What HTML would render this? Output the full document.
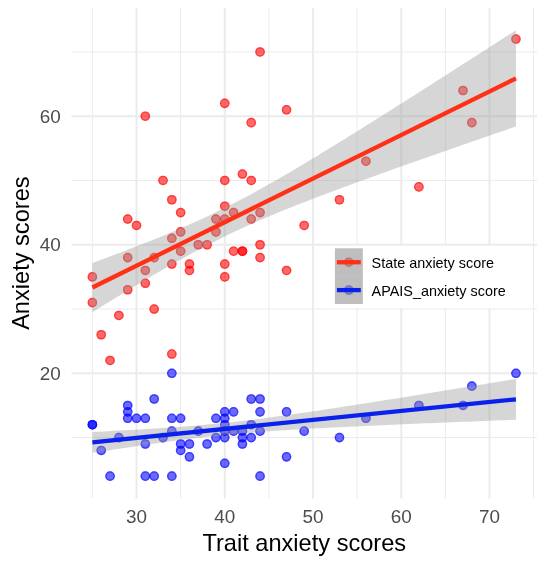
<!DOCTYPE html><html><head><meta charset="utf-8"><style>html,body{margin:0;padding:0;background:#fff;}svg{display:block;}text{font-family:"Liberation Sans",Arial,sans-serif;}</style></head><body>
<svg width="550" height="563" viewBox="0 0 550 563">
<rect width="550" height="563" fill="#fff"/>
<g stroke="#ebebeb" stroke-width="1.0"><line x1="92.40" y1="7.90" x2="92.40" y2="498.44"/><line x1="180.64" y1="7.90" x2="180.64" y2="498.44"/><line x1="268.88" y1="7.90" x2="268.88" y2="498.44"/><line x1="357.12" y1="7.90" x2="357.12" y2="498.44"/><line x1="445.36" y1="7.90" x2="445.36" y2="498.44"/><line x1="533.60" y1="7.90" x2="533.60" y2="498.44"/><line x1="71.50" y1="437.58" x2="537.10" y2="437.58"/><line x1="71.50" y1="309.02" x2="537.10" y2="309.02"/><line x1="71.50" y1="180.47" x2="537.10" y2="180.47"/><line x1="71.50" y1="51.93" x2="537.10" y2="51.93"/></g>
<g stroke="#ebebeb" stroke-width="2.0"><line x1="136.52" y1="7.90" x2="136.52" y2="498.44"/><line x1="224.76" y1="7.90" x2="224.76" y2="498.44"/><line x1="313.00" y1="7.90" x2="313.00" y2="498.44"/><line x1="401.24" y1="7.90" x2="401.24" y2="498.44"/><line x1="489.48" y1="7.90" x2="489.48" y2="498.44"/><line x1="71.50" y1="373.30" x2="537.10" y2="373.30"/><line x1="71.50" y1="244.75" x2="537.10" y2="244.75"/><line x1="71.50" y1="116.20" x2="537.10" y2="116.20"/></g>
<circle cx="92.40" cy="276.89" r="4.8" fill="#ff0000" fill-opacity="0.58"/><circle cx="92.40" cy="276.89" r="4.05" fill="none" stroke="#ff0000" stroke-opacity="0.45" stroke-width="1.5"/><circle cx="92.40" cy="302.60" r="4.8" fill="#ff0000" fill-opacity="0.58"/><circle cx="92.40" cy="302.60" r="4.05" fill="none" stroke="#ff0000" stroke-opacity="0.45" stroke-width="1.5"/><circle cx="101.22" cy="334.74" r="4.8" fill="#ff0000" fill-opacity="0.58"/><circle cx="101.22" cy="334.74" r="4.05" fill="none" stroke="#ff0000" stroke-opacity="0.45" stroke-width="1.5"/><circle cx="110.05" cy="360.44" r="4.8" fill="#ff0000" fill-opacity="0.58"/><circle cx="110.05" cy="360.44" r="4.05" fill="none" stroke="#ff0000" stroke-opacity="0.45" stroke-width="1.5"/><circle cx="118.87" cy="315.45" r="4.8" fill="#ff0000" fill-opacity="0.58"/><circle cx="118.87" cy="315.45" r="4.05" fill="none" stroke="#ff0000" stroke-opacity="0.45" stroke-width="1.5"/><circle cx="127.70" cy="289.74" r="4.8" fill="#ff0000" fill-opacity="0.58"/><circle cx="127.70" cy="289.74" r="4.05" fill="none" stroke="#ff0000" stroke-opacity="0.45" stroke-width="1.5"/><circle cx="127.70" cy="219.04" r="4.8" fill="#ff0000" fill-opacity="0.58"/><circle cx="127.70" cy="219.04" r="4.05" fill="none" stroke="#ff0000" stroke-opacity="0.45" stroke-width="1.5"/><circle cx="127.70" cy="257.61" r="4.8" fill="#ff0000" fill-opacity="0.58"/><circle cx="127.70" cy="257.61" r="4.05" fill="none" stroke="#ff0000" stroke-opacity="0.45" stroke-width="1.5"/><circle cx="136.52" cy="225.47" r="4.8" fill="#ff0000" fill-opacity="0.58"/><circle cx="136.52" cy="225.47" r="4.05" fill="none" stroke="#ff0000" stroke-opacity="0.45" stroke-width="1.5"/><circle cx="145.34" cy="270.46" r="4.8" fill="#ff0000" fill-opacity="0.58"/><circle cx="145.34" cy="270.46" r="4.05" fill="none" stroke="#ff0000" stroke-opacity="0.45" stroke-width="1.5"/><circle cx="145.34" cy="283.31" r="4.8" fill="#ff0000" fill-opacity="0.58"/><circle cx="145.34" cy="283.31" r="4.05" fill="none" stroke="#ff0000" stroke-opacity="0.45" stroke-width="1.5"/><circle cx="145.34" cy="116.20" r="4.8" fill="#ff0000" fill-opacity="0.58"/><circle cx="145.34" cy="116.20" r="4.05" fill="none" stroke="#ff0000" stroke-opacity="0.45" stroke-width="1.5"/><circle cx="154.17" cy="309.02" r="4.8" fill="#ff0000" fill-opacity="0.58"/><circle cx="154.17" cy="309.02" r="4.05" fill="none" stroke="#ff0000" stroke-opacity="0.45" stroke-width="1.5"/><circle cx="154.17" cy="257.61" r="4.8" fill="#ff0000" fill-opacity="0.58"/><circle cx="154.17" cy="257.61" r="4.05" fill="none" stroke="#ff0000" stroke-opacity="0.45" stroke-width="1.5"/><circle cx="162.99" cy="180.47" r="4.8" fill="#ff0000" fill-opacity="0.58"/><circle cx="162.99" cy="180.47" r="4.05" fill="none" stroke="#ff0000" stroke-opacity="0.45" stroke-width="1.5"/><circle cx="171.82" cy="354.02" r="4.8" fill="#ff0000" fill-opacity="0.58"/><circle cx="171.82" cy="354.02" r="4.05" fill="none" stroke="#ff0000" stroke-opacity="0.45" stroke-width="1.5"/><circle cx="171.82" cy="264.03" r="4.8" fill="#ff0000" fill-opacity="0.58"/><circle cx="171.82" cy="264.03" r="4.05" fill="none" stroke="#ff0000" stroke-opacity="0.45" stroke-width="1.5"/><circle cx="171.82" cy="199.76" r="4.8" fill="#ff0000" fill-opacity="0.58"/><circle cx="171.82" cy="199.76" r="4.05" fill="none" stroke="#ff0000" stroke-opacity="0.45" stroke-width="1.5"/><circle cx="171.82" cy="238.32" r="4.8" fill="#ff0000" fill-opacity="0.58"/><circle cx="171.82" cy="238.32" r="4.05" fill="none" stroke="#ff0000" stroke-opacity="0.45" stroke-width="1.5"/><circle cx="180.64" cy="212.61" r="4.8" fill="#ff0000" fill-opacity="0.58"/><circle cx="180.64" cy="212.61" r="4.05" fill="none" stroke="#ff0000" stroke-opacity="0.45" stroke-width="1.5"/><circle cx="180.64" cy="231.90" r="4.8" fill="#ff0000" fill-opacity="0.58"/><circle cx="180.64" cy="231.90" r="4.05" fill="none" stroke="#ff0000" stroke-opacity="0.45" stroke-width="1.5"/><circle cx="180.64" cy="251.18" r="4.8" fill="#ff0000" fill-opacity="0.58"/><circle cx="180.64" cy="251.18" r="4.05" fill="none" stroke="#ff0000" stroke-opacity="0.45" stroke-width="1.5"/><circle cx="189.46" cy="264.03" r="4.8" fill="#ff0000" fill-opacity="0.58"/><circle cx="189.46" cy="264.03" r="4.05" fill="none" stroke="#ff0000" stroke-opacity="0.45" stroke-width="1.5"/><circle cx="189.46" cy="270.46" r="4.8" fill="#ff0000" fill-opacity="0.58"/><circle cx="189.46" cy="270.46" r="4.05" fill="none" stroke="#ff0000" stroke-opacity="0.45" stroke-width="1.5"/><circle cx="198.29" cy="244.75" r="4.8" fill="#ff0000" fill-opacity="0.58"/><circle cx="198.29" cy="244.75" r="4.05" fill="none" stroke="#ff0000" stroke-opacity="0.45" stroke-width="1.5"/><circle cx="207.11" cy="244.75" r="4.8" fill="#ff0000" fill-opacity="0.58"/><circle cx="207.11" cy="244.75" r="4.05" fill="none" stroke="#ff0000" stroke-opacity="0.45" stroke-width="1.5"/><circle cx="215.94" cy="219.04" r="4.8" fill="#ff0000" fill-opacity="0.58"/><circle cx="215.94" cy="219.04" r="4.05" fill="none" stroke="#ff0000" stroke-opacity="0.45" stroke-width="1.5"/><circle cx="215.94" cy="231.90" r="4.8" fill="#ff0000" fill-opacity="0.58"/><circle cx="215.94" cy="231.90" r="4.05" fill="none" stroke="#ff0000" stroke-opacity="0.45" stroke-width="1.5"/><circle cx="224.76" cy="180.47" r="4.8" fill="#ff0000" fill-opacity="0.58"/><circle cx="224.76" cy="180.47" r="4.05" fill="none" stroke="#ff0000" stroke-opacity="0.45" stroke-width="1.5"/><circle cx="224.76" cy="206.19" r="4.8" fill="#ff0000" fill-opacity="0.58"/><circle cx="224.76" cy="206.19" r="4.05" fill="none" stroke="#ff0000" stroke-opacity="0.45" stroke-width="1.5"/><circle cx="224.76" cy="219.04" r="4.8" fill="#ff0000" fill-opacity="0.58"/><circle cx="224.76" cy="219.04" r="4.05" fill="none" stroke="#ff0000" stroke-opacity="0.45" stroke-width="1.5"/><circle cx="224.76" cy="264.03" r="4.8" fill="#ff0000" fill-opacity="0.58"/><circle cx="224.76" cy="264.03" r="4.05" fill="none" stroke="#ff0000" stroke-opacity="0.45" stroke-width="1.5"/><circle cx="224.76" cy="276.89" r="4.8" fill="#ff0000" fill-opacity="0.58"/><circle cx="224.76" cy="276.89" r="4.05" fill="none" stroke="#ff0000" stroke-opacity="0.45" stroke-width="1.5"/><circle cx="224.76" cy="103.35" r="4.8" fill="#ff0000" fill-opacity="0.58"/><circle cx="224.76" cy="103.35" r="4.05" fill="none" stroke="#ff0000" stroke-opacity="0.45" stroke-width="1.5"/><circle cx="233.58" cy="212.61" r="4.8" fill="#ff0000" fill-opacity="0.58"/><circle cx="233.58" cy="212.61" r="4.05" fill="none" stroke="#ff0000" stroke-opacity="0.45" stroke-width="1.5"/><circle cx="233.58" cy="251.18" r="4.8" fill="#ff0000" fill-opacity="0.58"/><circle cx="233.58" cy="251.18" r="4.05" fill="none" stroke="#ff0000" stroke-opacity="0.45" stroke-width="1.5"/><circle cx="242.41" cy="251.18" r="4.8" fill="#ff0000" fill-opacity="0.58"/><circle cx="242.41" cy="251.18" r="4.05" fill="none" stroke="#ff0000" stroke-opacity="0.45" stroke-width="1.5"/><circle cx="242.41" cy="251.18" r="4.8" fill="#ff0000" fill-opacity="0.58"/><circle cx="242.41" cy="251.18" r="4.05" fill="none" stroke="#ff0000" stroke-opacity="0.45" stroke-width="1.5"/><circle cx="242.41" cy="174.05" r="4.8" fill="#ff0000" fill-opacity="0.58"/><circle cx="242.41" cy="174.05" r="4.05" fill="none" stroke="#ff0000" stroke-opacity="0.45" stroke-width="1.5"/><circle cx="251.23" cy="180.47" r="4.8" fill="#ff0000" fill-opacity="0.58"/><circle cx="251.23" cy="180.47" r="4.05" fill="none" stroke="#ff0000" stroke-opacity="0.45" stroke-width="1.5"/><circle cx="251.23" cy="219.04" r="4.8" fill="#ff0000" fill-opacity="0.58"/><circle cx="251.23" cy="219.04" r="4.05" fill="none" stroke="#ff0000" stroke-opacity="0.45" stroke-width="1.5"/><circle cx="251.23" cy="122.63" r="4.8" fill="#ff0000" fill-opacity="0.58"/><circle cx="251.23" cy="122.63" r="4.05" fill="none" stroke="#ff0000" stroke-opacity="0.45" stroke-width="1.5"/><circle cx="260.06" cy="212.61" r="4.8" fill="#ff0000" fill-opacity="0.58"/><circle cx="260.06" cy="212.61" r="4.05" fill="none" stroke="#ff0000" stroke-opacity="0.45" stroke-width="1.5"/><circle cx="260.06" cy="244.75" r="4.8" fill="#ff0000" fill-opacity="0.58"/><circle cx="260.06" cy="244.75" r="4.05" fill="none" stroke="#ff0000" stroke-opacity="0.45" stroke-width="1.5"/><circle cx="260.06" cy="257.61" r="4.8" fill="#ff0000" fill-opacity="0.58"/><circle cx="260.06" cy="257.61" r="4.05" fill="none" stroke="#ff0000" stroke-opacity="0.45" stroke-width="1.5"/><circle cx="260.06" cy="51.93" r="4.8" fill="#ff0000" fill-opacity="0.58"/><circle cx="260.06" cy="51.93" r="4.05" fill="none" stroke="#ff0000" stroke-opacity="0.45" stroke-width="1.5"/><circle cx="286.53" cy="270.46" r="4.8" fill="#ff0000" fill-opacity="0.58"/><circle cx="286.53" cy="270.46" r="4.05" fill="none" stroke="#ff0000" stroke-opacity="0.45" stroke-width="1.5"/><circle cx="286.53" cy="109.77" r="4.8" fill="#ff0000" fill-opacity="0.58"/><circle cx="286.53" cy="109.77" r="4.05" fill="none" stroke="#ff0000" stroke-opacity="0.45" stroke-width="1.5"/><circle cx="304.18" cy="225.47" r="4.8" fill="#ff0000" fill-opacity="0.58"/><circle cx="304.18" cy="225.47" r="4.05" fill="none" stroke="#ff0000" stroke-opacity="0.45" stroke-width="1.5"/><circle cx="339.47" cy="199.76" r="4.8" fill="#ff0000" fill-opacity="0.58"/><circle cx="339.47" cy="199.76" r="4.05" fill="none" stroke="#ff0000" stroke-opacity="0.45" stroke-width="1.5"/><circle cx="365.94" cy="161.19" r="4.8" fill="#ff0000" fill-opacity="0.58"/><circle cx="365.94" cy="161.19" r="4.05" fill="none" stroke="#ff0000" stroke-opacity="0.45" stroke-width="1.5"/><circle cx="418.89" cy="186.90" r="4.8" fill="#ff0000" fill-opacity="0.58"/><circle cx="418.89" cy="186.90" r="4.05" fill="none" stroke="#ff0000" stroke-opacity="0.45" stroke-width="1.5"/><circle cx="463.01" cy="90.49" r="4.8" fill="#ff0000" fill-opacity="0.58"/><circle cx="463.01" cy="90.49" r="4.05" fill="none" stroke="#ff0000" stroke-opacity="0.45" stroke-width="1.5"/><circle cx="471.83" cy="122.63" r="4.8" fill="#ff0000" fill-opacity="0.58"/><circle cx="471.83" cy="122.63" r="4.05" fill="none" stroke="#ff0000" stroke-opacity="0.45" stroke-width="1.5"/><circle cx="515.95" cy="39.07" r="4.8" fill="#ff0000" fill-opacity="0.58"/><circle cx="515.95" cy="39.07" r="4.05" fill="none" stroke="#ff0000" stroke-opacity="0.45" stroke-width="1.5"/>
<circle cx="92.40" cy="424.72" r="4.8" fill="#0000ff" fill-opacity="0.58"/><circle cx="92.40" cy="424.72" r="4.05" fill="none" stroke="#0000ff" stroke-opacity="0.45" stroke-width="1.5"/><circle cx="92.40" cy="424.72" r="4.8" fill="#0000ff" fill-opacity="0.58"/><circle cx="92.40" cy="424.72" r="4.05" fill="none" stroke="#0000ff" stroke-opacity="0.45" stroke-width="1.5"/><circle cx="101.22" cy="450.43" r="4.8" fill="#0000ff" fill-opacity="0.58"/><circle cx="101.22" cy="450.43" r="4.05" fill="none" stroke="#0000ff" stroke-opacity="0.45" stroke-width="1.5"/><circle cx="110.05" cy="476.14" r="4.8" fill="#0000ff" fill-opacity="0.58"/><circle cx="110.05" cy="476.14" r="4.05" fill="none" stroke="#0000ff" stroke-opacity="0.45" stroke-width="1.5"/><circle cx="118.87" cy="437.58" r="4.8" fill="#0000ff" fill-opacity="0.58"/><circle cx="118.87" cy="437.58" r="4.05" fill="none" stroke="#0000ff" stroke-opacity="0.45" stroke-width="1.5"/><circle cx="127.70" cy="405.44" r="4.8" fill="#0000ff" fill-opacity="0.58"/><circle cx="127.70" cy="405.44" r="4.05" fill="none" stroke="#0000ff" stroke-opacity="0.45" stroke-width="1.5"/><circle cx="127.70" cy="411.87" r="4.8" fill="#0000ff" fill-opacity="0.58"/><circle cx="127.70" cy="411.87" r="4.05" fill="none" stroke="#0000ff" stroke-opacity="0.45" stroke-width="1.5"/><circle cx="127.70" cy="418.29" r="4.8" fill="#0000ff" fill-opacity="0.58"/><circle cx="127.70" cy="418.29" r="4.05" fill="none" stroke="#0000ff" stroke-opacity="0.45" stroke-width="1.5"/><circle cx="136.52" cy="418.29" r="4.8" fill="#0000ff" fill-opacity="0.58"/><circle cx="136.52" cy="418.29" r="4.05" fill="none" stroke="#0000ff" stroke-opacity="0.45" stroke-width="1.5"/><circle cx="145.34" cy="418.29" r="4.8" fill="#0000ff" fill-opacity="0.58"/><circle cx="145.34" cy="418.29" r="4.05" fill="none" stroke="#0000ff" stroke-opacity="0.45" stroke-width="1.5"/><circle cx="145.34" cy="444.00" r="4.8" fill="#0000ff" fill-opacity="0.58"/><circle cx="145.34" cy="444.00" r="4.05" fill="none" stroke="#0000ff" stroke-opacity="0.45" stroke-width="1.5"/><circle cx="145.34" cy="476.14" r="4.8" fill="#0000ff" fill-opacity="0.58"/><circle cx="145.34" cy="476.14" r="4.05" fill="none" stroke="#0000ff" stroke-opacity="0.45" stroke-width="1.5"/><circle cx="154.17" cy="399.01" r="4.8" fill="#0000ff" fill-opacity="0.58"/><circle cx="154.17" cy="399.01" r="4.05" fill="none" stroke="#0000ff" stroke-opacity="0.45" stroke-width="1.5"/><circle cx="154.17" cy="476.14" r="4.8" fill="#0000ff" fill-opacity="0.58"/><circle cx="154.17" cy="476.14" r="4.05" fill="none" stroke="#0000ff" stroke-opacity="0.45" stroke-width="1.5"/><circle cx="162.99" cy="437.58" r="4.8" fill="#0000ff" fill-opacity="0.58"/><circle cx="162.99" cy="437.58" r="4.05" fill="none" stroke="#0000ff" stroke-opacity="0.45" stroke-width="1.5"/><circle cx="171.82" cy="373.30" r="4.8" fill="#0000ff" fill-opacity="0.58"/><circle cx="171.82" cy="373.30" r="4.05" fill="none" stroke="#0000ff" stroke-opacity="0.45" stroke-width="1.5"/><circle cx="171.82" cy="418.29" r="4.8" fill="#0000ff" fill-opacity="0.58"/><circle cx="171.82" cy="418.29" r="4.05" fill="none" stroke="#0000ff" stroke-opacity="0.45" stroke-width="1.5"/><circle cx="171.82" cy="431.15" r="4.8" fill="#0000ff" fill-opacity="0.58"/><circle cx="171.82" cy="431.15" r="4.05" fill="none" stroke="#0000ff" stroke-opacity="0.45" stroke-width="1.5"/><circle cx="171.82" cy="476.14" r="4.8" fill="#0000ff" fill-opacity="0.58"/><circle cx="171.82" cy="476.14" r="4.05" fill="none" stroke="#0000ff" stroke-opacity="0.45" stroke-width="1.5"/><circle cx="180.64" cy="418.29" r="4.8" fill="#0000ff" fill-opacity="0.58"/><circle cx="180.64" cy="418.29" r="4.05" fill="none" stroke="#0000ff" stroke-opacity="0.45" stroke-width="1.5"/><circle cx="180.64" cy="444.00" r="4.8" fill="#0000ff" fill-opacity="0.58"/><circle cx="180.64" cy="444.00" r="4.05" fill="none" stroke="#0000ff" stroke-opacity="0.45" stroke-width="1.5"/><circle cx="180.64" cy="450.43" r="4.8" fill="#0000ff" fill-opacity="0.58"/><circle cx="180.64" cy="450.43" r="4.05" fill="none" stroke="#0000ff" stroke-opacity="0.45" stroke-width="1.5"/><circle cx="189.46" cy="444.00" r="4.8" fill="#0000ff" fill-opacity="0.58"/><circle cx="189.46" cy="444.00" r="4.05" fill="none" stroke="#0000ff" stroke-opacity="0.45" stroke-width="1.5"/><circle cx="189.46" cy="456.86" r="4.8" fill="#0000ff" fill-opacity="0.58"/><circle cx="189.46" cy="456.86" r="4.05" fill="none" stroke="#0000ff" stroke-opacity="0.45" stroke-width="1.5"/><circle cx="198.29" cy="431.15" r="4.8" fill="#0000ff" fill-opacity="0.58"/><circle cx="198.29" cy="431.15" r="4.05" fill="none" stroke="#0000ff" stroke-opacity="0.45" stroke-width="1.5"/><circle cx="207.11" cy="444.00" r="4.8" fill="#0000ff" fill-opacity="0.58"/><circle cx="207.11" cy="444.00" r="4.05" fill="none" stroke="#0000ff" stroke-opacity="0.45" stroke-width="1.5"/><circle cx="215.94" cy="418.29" r="4.8" fill="#0000ff" fill-opacity="0.58"/><circle cx="215.94" cy="418.29" r="4.05" fill="none" stroke="#0000ff" stroke-opacity="0.45" stroke-width="1.5"/><circle cx="215.94" cy="437.58" r="4.8" fill="#0000ff" fill-opacity="0.58"/><circle cx="215.94" cy="437.58" r="4.05" fill="none" stroke="#0000ff" stroke-opacity="0.45" stroke-width="1.5"/><circle cx="224.76" cy="411.87" r="4.8" fill="#0000ff" fill-opacity="0.58"/><circle cx="224.76" cy="411.87" r="4.05" fill="none" stroke="#0000ff" stroke-opacity="0.45" stroke-width="1.5"/><circle cx="224.76" cy="418.29" r="4.8" fill="#0000ff" fill-opacity="0.58"/><circle cx="224.76" cy="418.29" r="4.05" fill="none" stroke="#0000ff" stroke-opacity="0.45" stroke-width="1.5"/><circle cx="224.76" cy="424.72" r="4.8" fill="#0000ff" fill-opacity="0.58"/><circle cx="224.76" cy="424.72" r="4.05" fill="none" stroke="#0000ff" stroke-opacity="0.45" stroke-width="1.5"/><circle cx="224.76" cy="431.15" r="4.8" fill="#0000ff" fill-opacity="0.58"/><circle cx="224.76" cy="431.15" r="4.05" fill="none" stroke="#0000ff" stroke-opacity="0.45" stroke-width="1.5"/><circle cx="224.76" cy="437.58" r="4.8" fill="#0000ff" fill-opacity="0.58"/><circle cx="224.76" cy="437.58" r="4.05" fill="none" stroke="#0000ff" stroke-opacity="0.45" stroke-width="1.5"/><circle cx="224.76" cy="463.29" r="4.8" fill="#0000ff" fill-opacity="0.58"/><circle cx="224.76" cy="463.29" r="4.05" fill="none" stroke="#0000ff" stroke-opacity="0.45" stroke-width="1.5"/><circle cx="233.58" cy="411.87" r="4.8" fill="#0000ff" fill-opacity="0.58"/><circle cx="233.58" cy="411.87" r="4.05" fill="none" stroke="#0000ff" stroke-opacity="0.45" stroke-width="1.5"/><circle cx="233.58" cy="431.15" r="4.8" fill="#0000ff" fill-opacity="0.58"/><circle cx="233.58" cy="431.15" r="4.05" fill="none" stroke="#0000ff" stroke-opacity="0.45" stroke-width="1.5"/><circle cx="242.41" cy="431.15" r="4.8" fill="#0000ff" fill-opacity="0.58"/><circle cx="242.41" cy="431.15" r="4.05" fill="none" stroke="#0000ff" stroke-opacity="0.45" stroke-width="1.5"/><circle cx="242.41" cy="437.58" r="4.8" fill="#0000ff" fill-opacity="0.58"/><circle cx="242.41" cy="437.58" r="4.05" fill="none" stroke="#0000ff" stroke-opacity="0.45" stroke-width="1.5"/><circle cx="242.41" cy="444.00" r="4.8" fill="#0000ff" fill-opacity="0.58"/><circle cx="242.41" cy="444.00" r="4.05" fill="none" stroke="#0000ff" stroke-opacity="0.45" stroke-width="1.5"/><circle cx="251.23" cy="399.01" r="4.8" fill="#0000ff" fill-opacity="0.58"/><circle cx="251.23" cy="399.01" r="4.05" fill="none" stroke="#0000ff" stroke-opacity="0.45" stroke-width="1.5"/><circle cx="251.23" cy="424.72" r="4.8" fill="#0000ff" fill-opacity="0.58"/><circle cx="251.23" cy="424.72" r="4.05" fill="none" stroke="#0000ff" stroke-opacity="0.45" stroke-width="1.5"/><circle cx="251.23" cy="437.58" r="4.8" fill="#0000ff" fill-opacity="0.58"/><circle cx="251.23" cy="437.58" r="4.05" fill="none" stroke="#0000ff" stroke-opacity="0.45" stroke-width="1.5"/><circle cx="260.06" cy="399.01" r="4.8" fill="#0000ff" fill-opacity="0.58"/><circle cx="260.06" cy="399.01" r="4.05" fill="none" stroke="#0000ff" stroke-opacity="0.45" stroke-width="1.5"/><circle cx="260.06" cy="411.87" r="4.8" fill="#0000ff" fill-opacity="0.58"/><circle cx="260.06" cy="411.87" r="4.05" fill="none" stroke="#0000ff" stroke-opacity="0.45" stroke-width="1.5"/><circle cx="260.06" cy="431.15" r="4.8" fill="#0000ff" fill-opacity="0.58"/><circle cx="260.06" cy="431.15" r="4.05" fill="none" stroke="#0000ff" stroke-opacity="0.45" stroke-width="1.5"/><circle cx="260.06" cy="476.14" r="4.8" fill="#0000ff" fill-opacity="0.58"/><circle cx="260.06" cy="476.14" r="4.05" fill="none" stroke="#0000ff" stroke-opacity="0.45" stroke-width="1.5"/><circle cx="286.53" cy="411.87" r="4.8" fill="#0000ff" fill-opacity="0.58"/><circle cx="286.53" cy="411.87" r="4.05" fill="none" stroke="#0000ff" stroke-opacity="0.45" stroke-width="1.5"/><circle cx="286.53" cy="456.86" r="4.8" fill="#0000ff" fill-opacity="0.58"/><circle cx="286.53" cy="456.86" r="4.05" fill="none" stroke="#0000ff" stroke-opacity="0.45" stroke-width="1.5"/><circle cx="304.18" cy="431.15" r="4.8" fill="#0000ff" fill-opacity="0.58"/><circle cx="304.18" cy="431.15" r="4.05" fill="none" stroke="#0000ff" stroke-opacity="0.45" stroke-width="1.5"/><circle cx="339.47" cy="437.58" r="4.8" fill="#0000ff" fill-opacity="0.58"/><circle cx="339.47" cy="437.58" r="4.05" fill="none" stroke="#0000ff" stroke-opacity="0.45" stroke-width="1.5"/><circle cx="365.94" cy="418.29" r="4.8" fill="#0000ff" fill-opacity="0.58"/><circle cx="365.94" cy="418.29" r="4.05" fill="none" stroke="#0000ff" stroke-opacity="0.45" stroke-width="1.5"/><circle cx="418.89" cy="405.44" r="4.8" fill="#0000ff" fill-opacity="0.58"/><circle cx="418.89" cy="405.44" r="4.05" fill="none" stroke="#0000ff" stroke-opacity="0.45" stroke-width="1.5"/><circle cx="463.01" cy="405.44" r="4.8" fill="#0000ff" fill-opacity="0.58"/><circle cx="463.01" cy="405.44" r="4.05" fill="none" stroke="#0000ff" stroke-opacity="0.45" stroke-width="1.5"/><circle cx="471.83" cy="386.16" r="4.8" fill="#0000ff" fill-opacity="0.58"/><circle cx="471.83" cy="386.16" r="4.05" fill="none" stroke="#0000ff" stroke-opacity="0.45" stroke-width="1.5"/><circle cx="515.95" cy="373.30" r="4.8" fill="#0000ff" fill-opacity="0.58"/><circle cx="515.95" cy="373.30" r="4.05" fill="none" stroke="#0000ff" stroke-opacity="0.45" stroke-width="1.5"/>
<polygon points="92.40,431.93 97.76,431.67 103.12,431.41 108.48,431.14 113.85,430.87 119.21,430.59 124.57,430.31 129.93,430.02 135.29,429.72 140.65,429.41 146.01,429.10 151.38,428.77 156.74,428.44 162.10,428.09 167.46,427.73 172.82,427.36 178.18,426.98 183.54,426.58 188.91,426.16 194.27,425.72 199.63,425.27 204.99,424.80 210.35,424.30 215.71,423.79 221.07,423.26 226.44,422.70 231.80,422.13 237.16,421.53 242.52,420.92 247.88,420.28 253.24,419.63 258.60,418.96 263.97,418.27 269.33,417.57 274.69,416.85 280.05,416.12 285.41,415.38 290.77,414.62 296.13,413.86 301.50,413.08 306.86,412.30 312.22,411.51 317.58,410.71 322.94,409.90 328.30,409.09 333.66,408.27 339.03,407.45 344.39,406.62 349.75,405.79 355.11,404.95 360.47,404.11 365.83,403.26 371.19,402.42 376.56,401.57 381.92,400.71 387.28,399.86 392.64,399.00 398.00,398.14 403.36,397.28 408.72,396.42 414.09,395.55 419.45,394.68 424.81,393.82 430.17,392.95 435.53,392.07 440.89,391.20 446.25,390.33 451.61,389.45 456.98,388.58 462.34,387.70 467.70,386.82 473.06,385.94 478.42,385.06 483.78,384.18 489.14,383.30 494.51,382.42 499.87,381.54 505.23,380.66 510.59,379.77 515.95,378.89 515.95,419.75 510.59,419.96 505.23,420.16 499.87,420.37 494.51,420.58 489.14,420.79 483.78,421.00 478.42,421.21 473.06,421.42 467.70,421.63 462.34,421.84 456.98,422.06 451.61,422.27 446.25,422.49 440.89,422.70 435.53,422.92 430.17,423.14 424.81,423.36 419.45,423.58 414.09,423.81 408.72,424.03 403.36,424.26 398.00,424.49 392.64,424.72 387.28,424.95 381.92,425.19 376.56,425.43 371.19,425.67 365.83,425.91 360.47,426.16 355.11,426.41 349.75,426.66 344.39,426.92 339.03,427.18 333.66,427.45 328.30,427.72 322.94,428.00 317.58,428.28 312.22,428.57 306.86,428.87 301.50,429.18 296.13,429.50 290.77,429.82 285.41,430.16 280.05,430.50 274.69,430.86 269.33,431.24 263.97,431.62 258.60,432.03 253.24,432.45 247.88,432.88 242.52,433.34 237.16,433.82 231.80,434.31 226.44,434.83 221.07,435.36 215.71,435.92 210.35,436.50 204.99,437.09 199.63,437.71 194.27,438.35 188.91,439.01 183.54,439.68 178.18,440.37 172.82,441.07 167.46,441.79 162.10,442.52 156.74,443.27 151.38,444.02 146.01,444.79 140.65,445.57 135.29,446.35 129.93,447.14 124.57,447.94 119.21,448.75 113.85,449.56 108.48,450.38 103.12,451.21 97.76,452.04 92.40,452.87" fill="#999999" fill-opacity="0.4"/>
<line x1="92.40" y1="442.40" x2="515.95" y2="399.32" stroke="#0a20ec" stroke-width="4.3" stroke-linecap="butt"/>
<polygon points="92.40,262.89 97.76,260.92 103.12,258.94 108.48,256.94 113.85,254.94 119.21,252.92 124.57,250.89 129.93,248.84 135.29,246.78 140.65,244.69 146.01,242.59 151.38,240.46 156.74,238.31 162.10,236.13 167.46,233.92 172.82,231.68 178.18,229.41 183.54,227.10 188.91,224.75 194.27,222.36 199.63,219.93 204.99,217.45 210.35,214.93 215.71,212.36 221.07,209.74 226.44,207.07 231.80,204.35 237.16,201.58 242.52,198.77 247.88,195.91 253.24,193.01 258.60,190.06 263.97,187.08 269.33,184.06 274.69,181.01 280.05,177.92 285.41,174.81 290.77,171.67 296.13,168.50 301.50,165.31 306.86,162.10 312.22,158.87 317.58,155.63 322.94,152.36 328.30,149.09 333.66,145.80 339.03,142.49 344.39,139.18 349.75,135.86 355.11,132.52 360.47,129.18 365.83,125.83 371.19,122.47 376.56,119.10 381.92,115.73 387.28,112.35 392.64,108.97 398.00,105.58 403.36,102.19 408.72,98.79 414.09,95.39 419.45,91.98 424.81,88.57 430.17,85.16 435.53,81.74 440.89,78.32 446.25,74.90 451.61,71.48 456.98,68.05 462.34,64.62 467.70,61.19 473.06,57.76 478.42,54.32 483.78,50.89 489.14,47.45 494.51,44.01 499.87,40.56 505.23,37.12 510.59,33.68 515.95,30.23 515.95,126.45 510.59,128.30 505.23,130.15 499.87,132.00 494.51,133.86 489.14,135.71 483.78,137.57 478.42,139.43 473.06,141.29 467.70,143.15 462.34,145.02 456.98,146.89 451.61,148.75 446.25,150.63 440.89,152.50 435.53,154.38 430.17,156.26 424.81,158.14 419.45,160.03 414.09,161.92 408.72,163.81 403.36,165.71 398.00,167.62 392.64,169.52 387.28,171.44 381.92,173.36 376.56,175.28 371.19,177.21 365.83,179.15 360.47,181.09 355.11,183.05 349.75,185.01 344.39,186.98 339.03,188.96 333.66,190.96 328.30,192.96 322.94,194.98 317.58,197.01 312.22,199.06 306.86,201.13 301.50,203.22 296.13,205.33 290.77,207.46 285.41,209.61 280.05,211.79 274.69,214.00 269.33,216.25 263.97,218.52 258.60,220.84 253.24,223.19 247.88,225.58 242.52,228.02 237.16,230.50 231.80,233.03 226.44,235.61 221.07,238.24 215.71,240.91 210.35,243.64 204.99,246.41 199.63,249.23 194.27,252.09 188.91,255.00 183.54,257.95 178.18,260.94 172.82,263.96 167.46,267.02 162.10,270.11 156.74,273.22 151.38,276.37 146.01,279.54 140.65,282.73 135.29,285.94 129.93,289.17 124.57,292.42 119.21,295.68 113.85,298.96 108.48,302.26 103.12,305.56 97.76,308.88 92.40,312.20" fill="#999999" fill-opacity="0.4"/>
<line x1="92.40" y1="287.54" x2="515.95" y2="78.34" stroke="#ff3016" stroke-width="4.3" stroke-linecap="butt"/>
<rect x="326" y="245.8" width="186" height="62.4" fill="#fff"/>
<circle cx="348.85" cy="262.23" r="4.8" fill="#ff0000" fill-opacity="0.58"/><circle cx="348.85" cy="262.23" r="4.05" fill="none" stroke="#ff0000" stroke-opacity="0.45" stroke-width="1.5"/>
<rect x="334.90" y="248.30" width="27.9" height="27.85" fill="#999999" fill-opacity="0.64"/>
<line x1="336.90" y1="262.23" x2="360.80" y2="262.23" stroke="#ff3016" stroke-width="4.3"/>
<text x="371.6" y="268.23" font-size="14.4" fill="#000">State anxiety score</text>
<circle cx="348.85" cy="290.08" r="4.8" fill="#0000ff" fill-opacity="0.58"/><circle cx="348.85" cy="290.08" r="4.05" fill="none" stroke="#0000ff" stroke-opacity="0.45" stroke-width="1.5"/>
<rect x="334.90" y="276.15" width="27.9" height="27.85" fill="#999999" fill-opacity="0.64"/>
<line x1="336.90" y1="290.08" x2="360.80" y2="290.08" stroke="#0a20ec" stroke-width="4.3"/>
<text x="371.6" y="296.08" font-size="14.4" fill="#000">APAIS_anxiety score</text>
<text x="60.7" y="379.90" font-size="18.9" fill="#4d4d4d" text-anchor="end">20</text>
<text x="60.7" y="251.35" font-size="18.9" fill="#4d4d4d" text-anchor="end">40</text>
<text x="60.7" y="122.80" font-size="18.9" fill="#4d4d4d" text-anchor="end">60</text>
<text x="136.52" y="522.9" font-size="18.9" fill="#4d4d4d" text-anchor="middle">30</text>
<text x="224.76" y="522.9" font-size="18.9" fill="#4d4d4d" text-anchor="middle">40</text>
<text x="313.00" y="522.9" font-size="18.9" fill="#4d4d4d" text-anchor="middle">50</text>
<text x="401.24" y="522.9" font-size="18.9" fill="#4d4d4d" text-anchor="middle">60</text>
<text x="489.48" y="522.9" font-size="18.9" fill="#4d4d4d" text-anchor="middle">70</text>
<text x="304.30" y="550.9" font-size="23.6" fill="#000" text-anchor="middle">Trait anxiety scores</text>
<text transform="translate(28.8,253.17) rotate(-90)" x="0" y="0" font-size="23.6" fill="#000" text-anchor="middle">Anxiety scores</text>
</svg></body></html>
